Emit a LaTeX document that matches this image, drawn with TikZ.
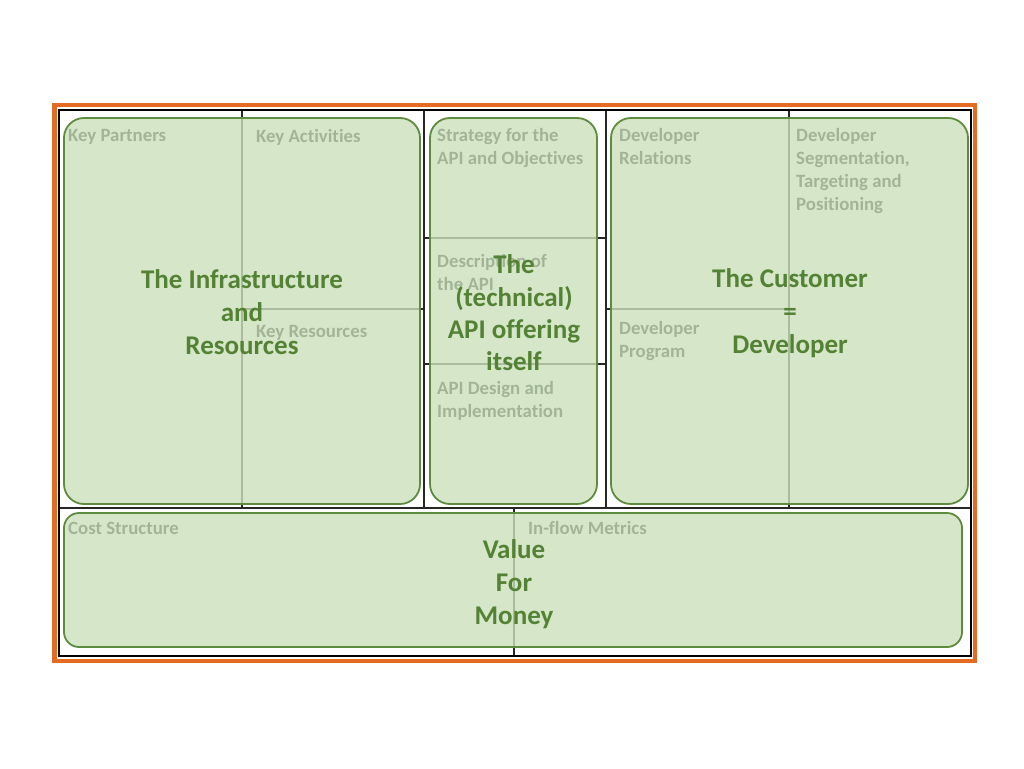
\documentclass[tikz,border=0pt]{standalone}
\usepackage{fontspec}
\setmainfont{Carlito}[Ligatures=NoCommon]
\definecolor{framorange}{HTML}{E46C22}
\definecolor{boxfill}{HTML}{CBE2BB}
\definecolor{boxedge}{HTML}{5E8C3E}
\definecolor{bigtext}{HTML}{548235}
\begin{document}
\begin{tikzpicture}[x=1pt,y=-1pt,
  orangeframe/.style={draw=framorange,line width=4.5pt},
  blackframe/.style={draw=black,line width=2.4pt},
  gridline/.style={draw=black!85,line width=1.4pt},
  greenbox/.style={fill=boxfill,fill opacity=0.8,draw=boxedge,draw opacity=1,line width=1.8pt,rounded corners=20pt},
  lbl/.style={anchor=north west,inner sep=0pt,align=left,text=black,font=\bfseries\fontsize{18.8}{23}\selectfont},
  bigtxt/.style={anchor=center,inner sep=0pt,align=center,text=bigtext,font=\bfseries\fontsize{27}{33}\selectfont}]
\useasboundingbox (0,0) rectangle (1024,768);
\fill[white] (0,0) rectangle (1024,768);
% grid of the canvas
\draw[gridline] (242,110) -- (242,508);
\draw[gridline] (424,110) -- (424,508);
\draw[gridline] (606,110) -- (606,508);
\draw[gridline] (789,110) -- (789,508);
\draw[gridline] (59,508) -- (971,508);
\draw[gridline] (242,309) -- (424,309);
\draw[gridline] (606,309) -- (789,309);
\draw[gridline] (424,238) -- (606,238);
\draw[gridline] (424,364) -- (606,364);
\draw[gridline] (514,508) -- (514,656);
% block labels
\node[lbl] (kp) at (68,129.5) {Key Partners};
\node[lbl] (ka) at (256,129.5) {Key Activities};
\node[lbl] (kr) at (256,325) {Key Resources};
\node[lbl] (st) at (437,128) {Strategy for the\\API and Objectives};
\node[lbl] (de) at (437,254) {Description of\\the API};
\node[lbl] (ad) at (437,381) {API Design and\\Implementation};
\node[lbl] (dr) at (619,128) {Developer\\Relations};
\node[lbl] (ds) at (796,128) {Developer\\Segmentation,\\Targeting and\\Positioning};
\node[lbl] (dp) at (619,321) {Developer\\Program};
\node[lbl] (cs) at (68,522) {Cost Structure};
\node[lbl] (im) at (528,521) {In-flow Metrics};
% green overlays
\draw[greenbox] (64,118) rectangle (420,504);
\draw[greenbox] (430,118) rectangle (597,504);
\draw[greenbox] (611,118) rectangle (968,504);
\draw[greenbox,rounded corners=15pt] (64,513) rectangle (962,647);
% big texts
\node[bigtxt] (infra) at (242,312) {The Infrastructure\\and\\Resources};
\node[bigtxt,font=\bfseries\fontsize{27}{32.4}\selectfont] (api) at (514,313) {The\\(technical)\\API offering\\itself};
\node[bigtxt] (cust) at (790,313.5) {The Customer\\=\\Developer};
\node[bigtxt] (value) at (514,584) {Value\\For\\Money};
% frames
\draw[blackframe] (59,110) rectangle (971,656);
\draw[orangeframe] (54.5,105) rectangle (975,661);
\end{tikzpicture}
\end{document}
